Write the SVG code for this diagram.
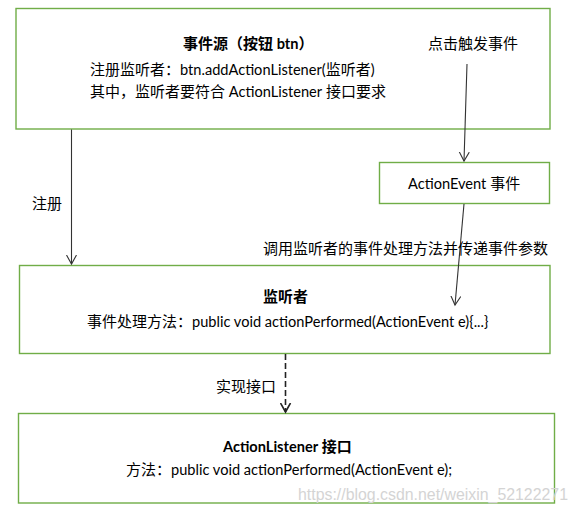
<svg xmlns="http://www.w3.org/2000/svg" width="577" height="512" viewBox="0 0 577 512">
<defs>
<style>
.box{fill:#fff;stroke:#70ad47;stroke-width:1.4}
.t{font-family:"Lato","Noto Sans CJK SC",sans-serif;font-size:15px;fill:#000}
.b{font-weight:bold}
.lat{font-family:"Lato",sans-serif;font-size:14.6px}
.ln{fill:none;stroke:#333;stroke-width:1.1}
.dash{fill:none;stroke:#222;stroke-width:1.6;stroke-dasharray:6 3}
.wm{font-family:"Liberation Sans",Arial,sans-serif;font-size:17px;fill:#d4d4d4}
</style>
<marker id="ah" markerUnits="userSpaceOnUse" markerWidth="12" markerHeight="12" refX="9" refY="5" orient="auto" viewBox="0 0 12 10">
<path d="M0,0 L9,5 L0,10" fill="none" stroke="#333" stroke-width="1.1"/>
</marker>
<marker id="ahd" markerUnits="userSpaceOnUse" markerWidth="12" markerHeight="12" refX="9" refY="5" orient="auto" viewBox="0 0 12 10">
<path d="M0,0 L9,5 L0,10" fill="none" stroke="#222" stroke-width="1.6"/>
</marker>
</defs>
<rect width="577" height="512" fill="#fff"/>
<g id="source">
<rect class="box" x="16" y="8.5" width="534" height="120.5"/>
<text class="t b" x="183" y="49">事件源（按钮 <tspan class="lat b">btn</tspan>）</text>
<text class="t" x="90" y="75">注册监听者：<tspan class="lat">btn.addActionListener(</tspan>监听者<tspan class="lat">)</tspan></text>
<text class="t" x="90" y="97">其中，监听者要符合 <tspan class="lat">ActionListener</tspan> 接口要求</text>
</g>
<g id="event">
<rect class="box" x="379.5" y="162.5" width="170" height="41"/>
<text class="t" x="408" y="189"><tspan class="lat">ActionEvent</tspan> 事件</text>
</g>
<g id="listener">
<rect class="box" x="19.5" y="265.5" width="530.5" height="88"/>
<text class="t b" x="263" y="302">监听者</text>
<text class="t" x="87" y="327">事件处理方法：<tspan class="lat">public void actionPerformed(ActionEvent e){...}</tspan></text>
</g>
<g id="interface">
<rect class="box" x="18.5" y="413.5" width="536" height="89.5"/>
<text class="t b" x="223" y="452"><tspan class="lat b">ActionListener</tspan> 接口</text>
<text class="t" x="126" y="475">方法：<tspan class="lat">public void actionPerformed(ActionEvent e);</tspan></text>
</g>
<g id="connectors">
<line class="ln" x1="467" y1="64" x2="464" y2="161" marker-end="url(#ah)"/>
<line class="ln" x1="71.5" y1="129.5" x2="71.5" y2="264" marker-end="url(#ah)"/>
<line class="ln" x1="464" y1="204" x2="455" y2="305" marker-end="url(#ah)"/>
<line class="dash" x1="285.5" y1="354" x2="285.5" y2="412" marker-end="url(#ahd)"/>
<text class="t" x="428" y="49">点击触发事件</text>
<text class="t" x="32" y="209">注册</text>
<text class="t" x="263" y="254">调用监听者的事件处理方法并传递事件参数</text>
<text class="t" x="216" y="392">实现接口</text>
</g>
<text class="wm" x="298" y="500" textLength="270" lengthAdjust="spacingAndGlyphs">https://blog.csdn.net/weixin_52122271</text>
</svg>
